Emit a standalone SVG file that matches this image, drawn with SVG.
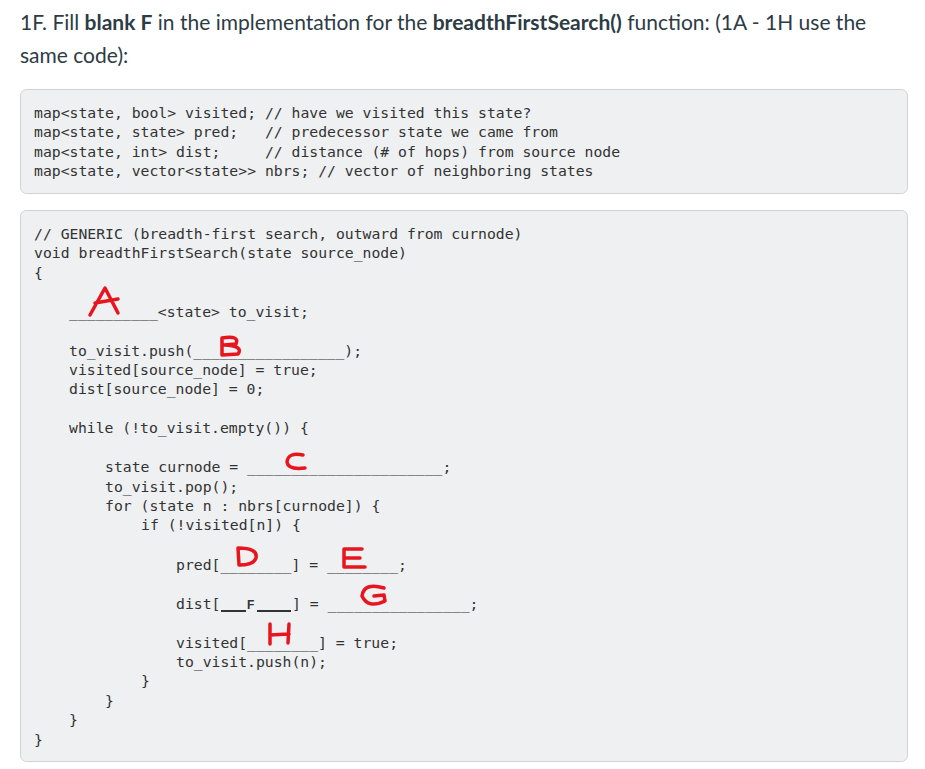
<svg xmlns="http://www.w3.org/2000/svg" width="925" height="769" viewBox="0 0 925 769">
<style>
.t{font-family:Lato,"Liberation Sans",sans-serif;font-size:21px;fill:#2d3b45}
.c{font-family:"DejaVu Sans Mono","Liberation Mono",monospace;font-size:14.75px;fill:#333;white-space:pre}
.box{fill:#eef0f2;stroke:#cfd3d6;stroke-width:1}
.h{fill:none;stroke:#e8141e;stroke-width:3.5;stroke-linejoin:round;stroke-linecap:round}
.f{font-family:"Liberation Sans",sans-serif;font-weight:bold;font-size:12px;fill:#333}
</style>
<rect width="925" height="769" fill="#fff"/>
<text class="t" x="20" y="30">1F. Fill <tspan font-weight="bold">blank F</tspan> in the implementation for the <tspan font-weight="bold">breadthFirstSearch()</tspan> function: (1A - 1H use the</text>
<text class="t" x="20" y="63">same code):</text>
<rect class="box" x="20.5" y="89.5" width="887" height="104" rx="6"/>
<text class="c" x="34" y="118">map&lt;state, bool&gt; visited; // have we visited this state?</text>
<text class="c" x="34" y="137">map&lt;state, state&gt; pred;   // predecessor state we came from</text>
<text class="c" x="34" y="157">map&lt;state, int&gt; dist;     // distance (# of hops) from source node</text>
<text class="c" x="34" y="176">map&lt;state, vector&lt;state&gt;&gt; nbrs; // vector of neighboring states</text>
<rect class="box" x="20.5" y="210.5" width="887" height="551" rx="6"/>
<text class="c" x="34" y="239">// GENERIC (breadth-first search, outward from curnode)</text>
<text class="c" x="34" y="258">void breadthFirstSearch(state source_node)</text>
<text class="c" x="34" y="278">{</text>
<text class="c" x="69" y="317">__________&lt;state&gt; to_visit;</text>
<text class="c" x="69" y="356">to_visit.push(_________________);</text>
<text class="c" x="69" y="375">visited[source_node] = true;</text>
<text class="c" x="69" y="394">dist[source_node] = 0;</text>
<text class="c" x="69" y="433">while (!to_visit.empty()) {</text>
<text class="c" x="105" y="472">state curnode = ______________________;</text>
<text class="c" x="105" y="492">to_visit.pop();</text>
<text class="c" x="105" y="511">for (state n : nbrs[curnode]) {</text>
<text class="c" x="141" y="530">if (!visited[n]) {</text>
<text class="c" x="176" y="570">pred[________] = ________;</text>
<text class="c" x="176" y="609">dist[</text>
<line x1="221" y1="611" x2="246" y2="611" stroke="#333" stroke-width="2"/>
<text class="f" x="247" y="609">F</text>
<line x1="257" y1="611" x2="291" y2="611" stroke="#333" stroke-width="2"/>
<text class="c" x="292" y="609">] = ________________;</text>
<text class="c" x="176" y="648">visited[________] = true;</text>
<text class="c" x="176" y="667">to_visit.push(n);</text>
<text class="c" x="141" y="686">}</text>
<text class="c" x="105" y="706">}</text>
<text class="c" x="69" y="725">}</text>
<text class="c" x="34" y="745">}</text>
<g class="h">
<path d="M90,315 L105,288 L118,313 M95,303 L118,299"/>
<path d="M222,355 L222,338 Q240,335 236,344 L224,345 Q244,346 238,354 Z"/>
<path d="M303,455 Q288,452 287,462 Q288,470 305,468"/>
<path d="M239,565 L238,548 Q258,548 256,558 Q254,565 239,565"/>
<path d="M362,549 L344,549 L344,567 L365,567 M344,558 L360,558"/>
<path d="M384,588 Q364,582 362,596 Q368,609 385,601 L384,595 L374,596"/>
<path d="M270,644 L270,624 M288,643 L289,624 M270,635 L289,634"/>
</g>
</svg>
